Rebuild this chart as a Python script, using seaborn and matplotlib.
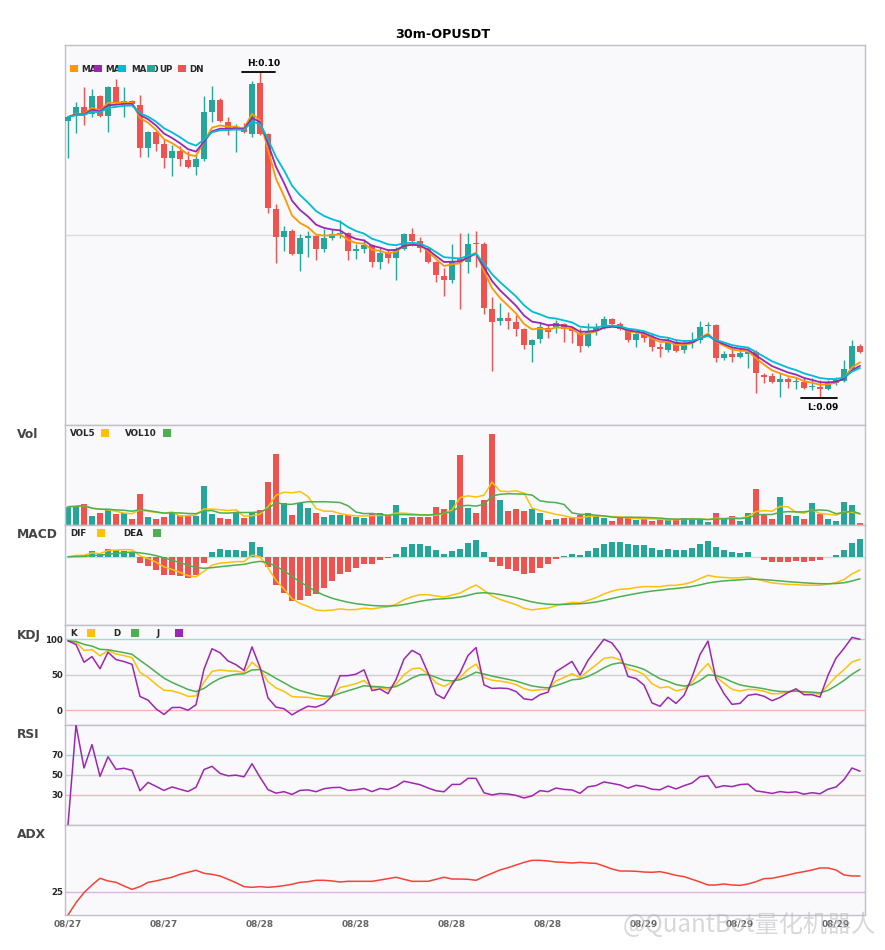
import numpy as np
import pandas as pd
import matplotlib
matplotlib.use("Agg")
import matplotlib.pyplot as plt
from matplotlib.patches import Patch
from matplotlib.legend import Legend
import seaborn as sns

sns.set_theme(style="white")
plt.rcParams["font.family"] = ["DejaVu Sans"]

title = "30m-OPUSDT"
watermark = "@QuantBot量化机器人"

# prices in units of 1e-5 USDT
open_e5 = [9842, 9863, 9884, 9863, 9917, 9857, 9944, 9896, 9902, 9890,
           9761, 9809, 9773, 9731, 9752, 9725, 9704, 9728, 9869, 9905,
           9839, 9818, 9824, 9803, 9956, 9803, 9578, 9494, 9512, 9443,
           9491, 9497, 9458, 9491, 9503, 9506, 9452, 9458, 9470, 9419,
           9446, 9431, 9458, 9503, 9482, 9461, 9419, 9377, 9365, 9428,
           9419, 9476, 9473, 9278, 9242, 9251, 9239, 9218, 9170, 9188,
           9221, 9224, 9233, 9218, 9206, 9167, 9212, 9221, 9248, 9233,
           9218, 9185, 9203, 9194, 9164, 9155, 9179, 9155, 9176, 9185,
           9227, 9230, 9131, 9143, 9134, 9143, 9149, 9080, 9077, 9059,
           9068, 9059, 9059, 9044, 9044, 9038, 9056, 9062, 9098, 9167]
high_e5 = [9857, 9899, 9944, 9938, 9920, 9947, 9968, 9944, 9905, 9920,
           9812, 9812, 9788, 9770, 9767, 9752, 9740, 9917, 9947, 9911,
           9854, 9833, 9836, 9962, 9989, 9806, 9593, 9527, 9518, 9503,
           9512, 9500, 9518, 9518, 9545, 9509, 9473, 9488, 9473, 9461,
           9458, 9464, 9506, 9521, 9494, 9464, 9422, 9401, 9473, 9506,
           9506, 9512, 9479, 9314, 9296, 9269, 9260, 9221, 9188, 9239,
           9230, 9245, 9236, 9224, 9221, 9236, 9236, 9257, 9251, 9239,
           9221, 9212, 9209, 9206, 9176, 9191, 9185, 9185, 9209, 9242,
           9239, 9233, 9152, 9164, 9164, 9155, 9155, 9086, 9086, 9086,
           9074, 9074, 9071, 9071, 9065, 9065, 9074, 9125, 9185, 9173]
low_e5 = [9731, 9806, 9830, 9854, 9854, 9809, 9893, 9854, 9887, 9734,
          9734, 9752, 9701, 9677, 9707, 9701, 9680, 9722, 9839, 9839,
          9800, 9749, 9806, 9794, 9800, 9566, 9416, 9452, 9440, 9392,
          9434, 9425, 9449, 9485, 9491, 9425, 9428, 9446, 9404, 9398,
          9416, 9365, 9455, 9467, 9449, 9416, 9359, 9317, 9356, 9278,
          9386, 9404, 9263, 9092, 9230, 9218, 9197, 9158, 9119, 9176,
          9191, 9206, 9179, 9176, 9149, 9164, 9200, 9218, 9230, 9215,
          9179, 9164, 9179, 9152, 9134, 9149, 9149, 9146, 9161, 9176,
          9209, 9119, 9125, 9119, 9131, 9101, 9026, 9056, 9056, 9014,
          9041, 9038, 9038, 9035, 9011, 9035, 9050, 9059, 9095, 9146]
close_e5 = [9854, 9884, 9863, 9917, 9857, 9944, 9896, 9902, 9893, 9761,
            9809, 9773, 9731, 9752, 9728, 9704, 9728, 9869, 9905, 9842,
            9818, 9824, 9809, 9953, 9803, 9581, 9494, 9512, 9443, 9491,
            9497, 9458, 9491, 9503, 9506, 9452, 9458, 9470, 9419, 9446,
            9431, 9458, 9503, 9482, 9461, 9419, 9380, 9365, 9422, 9422,
            9473, 9473, 9281, 9239, 9251, 9242, 9218, 9170, 9185, 9224,
            9209, 9236, 9218, 9212, 9167, 9212, 9221, 9248, 9233, 9218,
            9185, 9203, 9191, 9164, 9158, 9179, 9152, 9170, 9185, 9224,
            9230, 9131, 9143, 9134, 9146, 9149, 9086, 9074, 9059, 9068,
            9059, 9062, 9041, 9047, 9038, 9056, 9065, 9098, 9167, 9149]
volume = [183, 190, 210, 90, 117, 157, 110, 123, 60, 310,
          80, 60, 80, 123, 103, 103, 90, 390, 110, 70,
          60, 130, 70, 130, 150, 430, 710, 220, 100, 220,
          170, 120, 80, 100, 100, 100, 80, 70, 117, 117,
          90, 200, 70, 80, 80, 80, 180, 160, 250, 700,
          170, 120, 250, 910, 250, 140, 160, 140, 160, 120,
          50, 60, 70, 70, 100, 120, 90, 70, 40, 80,
          80, 50, 60, 40, 60, 50, 60, 70, 60, 60,
          30, 120, 60, 90, 40, 120, 360, 110, 60, 280,
          100, 90, 60, 220, 110, 60, 40, 230, 200, 20]
adx_values = [0.0, 13.4, 24.3, 32.6, 39.9, 37.0, 35.5, 31.5, 27.9, 30.8,
              35.5, 37.0, 39.1, 41.0, 44.2, 46.4, 48.6, 45.3, 44.2, 42.4,
              38.8, 35.1, 30.8, 30.1, 30.8, 30.1, 30.8, 31.9, 33.4, 35.5,
              36.2, 37.7, 37.7, 37.0, 35.9, 36.6, 36.6, 36.6, 36.6, 38.0,
              39.5, 41.0, 38.8, 36.6, 36.6, 36.6, 38.8, 41.0, 39.1, 39.1,
              38.8, 37.7, 41.7, 45.3, 48.9, 51.4, 54.3, 57.2, 59.4, 59.4,
              58.7, 57.6, 57.2, 56.5, 57.2, 56.5, 56.1, 53.2, 50.0, 47.8,
              47.8, 47.5, 46.7, 46.4, 47.1, 45.3, 43.1, 41.7, 38.8, 35.9,
              32.6, 32.6, 33.7, 32.6, 32.2, 33.7, 36.2, 39.5, 39.9, 41.7,
              43.5, 45.6, 47.1, 48.9, 51.1, 51.1, 48.9, 43.5, 42.4, 42.4]

tick_pos = [0, 12, 24, 36, 48, 60, 72, 84, 96]
tick_labels = ["08/27", "08/27", "08/28", "08/28", "08/28", "08/28", "08/29", "08/29", "08/29"]
ma_spans = [5, 7, 10]

UP_C, DN_C = "#26a69a", "#ef5350"
MA_COLORS = ["#ff9800", "#9c27b0", "#00bcd4"]
C_Y, C_G, C_P, C_ADX = "#ffc107", "#4caf50", "#9c27b0", "#f44336"

df = pd.DataFrame({
    "open": np.array(open_e5) / 1e5,
    "high": np.array(high_e5) / 1e5,
    "low": np.array(low_e5) / 1e5,
    "close": np.array(close_e5) / 1e5,
    "volume": np.array(volume, dtype=float),
    "adx": np.array(adx_values),
})
df["idx"] = np.arange(len(df))
n = len(df)
o, h, l, c, v = df["open"], df["high"], df["low"], df["close"], df["volume"]
is_up = c >= o
colors = np.where(is_up, UP_C, DN_C)

# indicators
mas = [c.ewm(span=s, adjust=False).mean() for s in ma_spans]
vol5 = v.rolling(5, min_periods=1).mean()
vol10 = v.rolling(10, min_periods=1).mean()
dif = c.ewm(span=12, adjust=False).mean() - c.ewm(span=26, adjust=False).mean()
dea = dif.ewm(span=9, adjust=False).mean()
hist = 2 * (dif - dea)
llv = l.rolling(9, min_periods=1).min()
hhv = h.rolling(9, min_periods=1).max()
rsv = (c - llv) / (hhv - llv) * 100
k_line = rsv.ewm(com=2, adjust=False).mean()
d_line = k_line.ewm(com=2, adjust=False).mean()
j_line = 3 * k_line - 2 * d_line
delta = c.diff()
gain = delta.clip(lower=0)
loss = (-delta).clip(lower=0)
ag = gain.ewm(alpha=1 / 14, adjust=True).mean()
al = loss.ewm(alpha=1 / 14, adjust=True).mean()
rsi = (100 * ag / (ag + al)).fillna(0)

W, H = 885, 950
fig = plt.figure(figsize=(W / 100, H / 100), dpi=100)
fig.patch.set_facecolor("white")


def make_ax(top, bot):
    ax = fig.add_axes([65 / W, 1 - bot / H, 800 / W, (bot - top) / H])
    ax.set_facecolor("#f9f9fb")
    for s in ax.spines.values():
        s.set_color("#c0c0c8")
        s.set_linewidth(1.0)
    return ax


def finish(ax):
    ax.set_xlim(-0.375, n - 0.375)
    ax.set_xticks(tick_pos)
    ax.set_xticklabels([])
    ax.tick_params(length=0, pad=1.5, labelsize=6.2)
    for t in ax.get_yticklabels():
        t.set_fontweight("bold")
    ax.set_xlabel("")
    ax.set_ylabel("")
    ax.grid(False)


def key(ax, panel_top, panel_h, label, color, x_px, y_px, pad, markerfirst):
    leg = Legend(ax, [Patch(facecolor=color, edgecolor="none")], [label],
                 loc="center left",
                 bbox_to_anchor=((x_px - 65) / 800, 1 - (y_px - panel_top) / panel_h),
                 frameon=False, borderpad=0, borderaxespad=0,
                 handlelength=0.9, handleheight=0.9, handletextpad=pad,
                 markerfirst=markerfirst, prop={"size": 6.3, "weight": "bold"})
    ax.add_artist(leg)


# ---- main candlestick panel
ax = make_ax(45, 425)
lo, hi = l.min(), h.max()
rng = hi - lo
ax.set_ylim(lo - 0.083 * rng, hi + 0.083 * rng)
y0, y1 = ax.get_ylim()
ax.axhline((y0 + y1) / 2, color="#dddddd", lw=1, zorder=0)
ax.vlines(df["idx"], l, h, colors=colors, lw=1.0, zorder=2)
body_lo = np.minimum(o, c)
body_h = np.maximum((c - o).abs(), rng * 0.004)
ax.bar(df["idx"], body_h, bottom=body_lo, width=0.75, color=colors, linewidth=0, zorder=3)
for ma, col in zip(mas, MA_COLORS):
    sns.lineplot(x=df["idx"], y=ma, ax=ax, color=col, lw=1.3, zorder=4)
ax.set_yticks([])
ih = int(h.idxmax())
il = int(l.idxmin())
ax.plot([ih - 2.25, ih + 1.9], [hi, hi], color="black", lw=1.3, zorder=5)
ax.annotate(f"H:{hi:.2f}", xy=(ih + 0.5, hi), xytext=(0, 3), textcoords="offset points",
            ha="center", va="bottom", fontsize=6.5, fontweight="bold", color="black")
ax.plot([il - 2.4, il + 2.1], [lo, lo], color="black", lw=1.3, zorder=5)
ax.annotate(f"L:{lo:.2f}", xy=(il + 0.4, lo), xytext=(0, -3.5), textcoords="offset points",
            ha="center", va="top", fontsize=6.5, fontweight="bold", color="black")
finish(ax)
ax.set_ylim(y0, y1)
ma_labels = [f"MA{s}" for s in ma_spans]
for lab, col, xs, pad in [(ma_labels[0], MA_COLORS[0], 70, 0.34),
                          (ma_labels[1], MA_COLORS[1], 94, 0.34),
                          (ma_labels[2], MA_COLORS[2], 118, 0.57),
                          ("UP", UP_C, 147, 0.46),
                          ("DN", DN_C, 178, 0.34)]:
    key(ax, 45, 380, lab, col, xs, 69, pad, True)

# ---- volume
ax = make_ax(425, 525)
ax.bar(df["idx"], v, width=0.75, color=colors, linewidth=0, zorder=2)
sns.lineplot(x=df["idx"], y=vol5, ax=ax, color=C_Y, lw=1.1, zorder=3)
sns.lineplot(x=df["idx"], y=vol10, ax=ax, color=C_G, lw=1.1, zorder=3)
ax.set_ylim(0, v.max() * 1.1)
ax.set_yticks([])
finish(ax)
key(ax, 425, 100, "VOL5", C_Y, 70, 433.5, 0.58, False)
key(ax, 425, 100, "VOL10", C_G, 125, 433.5, 0.69, False)

# ---- MACD
ax = make_ax(525, 625)
ax.axhline(0, color="#d8d8d8", lw=1, zorder=0)
ax.bar(df["idx"], hist, width=0.75, color=np.where(hist >= 0, UP_C, DN_C), linewidth=0, zorder=2)
sns.lineplot(x=df["idx"], y=dif, ax=ax, color=C_Y, lw=1.1, zorder=3)
sns.lineplot(x=df["idx"], y=dea, ax=ax, color=C_G, lw=1.1, zorder=3)
mn = min(dif.min(), dea.min(), hist.min())
mx = max(dif.max(), dea.max(), hist.max())
ax.set_ylim(mn - 0.2 * (mx - mn), mx + 0.2 * (mx - mn))
ax.set_yticks([])
finish(ax)
key(ax, 525, 100, "DIF", C_Y, 70, 533.5, 1.2, False)
key(ax, 525, 100, "DEA", C_G, 123, 533.5, 1.14, False)

# ---- KDJ
ax = make_ax(625, 725)
ax.axhline(100, color="#a6d8d4", lw=1, zorder=0)
ax.axhline(50, color="#d0d0d0", lw=1, zorder=0)
ax.axhline(0, color="#f5b5b5", lw=1, zorder=0)
sns.lineplot(x=df["idx"], y=k_line, ax=ax, color=C_Y, lw=1.1, zorder=3)
sns.lineplot(x=df["idx"], y=d_line, ax=ax, color=C_G, lw=1.1, zorder=3)
sns.lineplot(x=df["idx"], y=j_line, ax=ax, color=C_P, lw=1.1, zorder=3)
ax.set_ylim(-21, 120)
ax.set_yticks([0, 50, 100])
finish(ax)
key(ax, 625, 100, "K", C_Y, 70, 633.5, 1.17, False)
key(ax, 625, 100, "D", C_G, 113, 633.5, 1.22, False)
key(ax, 625, 100, "J", C_P, 157, 633.5, 1.68, False)

# ---- RSI
ax = make_ax(725, 825)
ax.axhline(70, color="#a6d8d4", lw=1, zorder=0)
ax.axhline(50, color="#d0d0d0", lw=1, zorder=0)
ax.axhline(30, color="#f5b5b5", lw=1, zorder=0)
sns.lineplot(x=df["idx"], y=rsi, ax=ax, color=C_P, lw=1.1, zorder=3)
ax.set_ylim(0, 100)
ax.set_yticks([30, 50, 70])
finish(ax)

# ---- ADX
ax = make_ax(825, 915)
ax.axhline(25, color="#dcb4e2", lw=1, zorder=0)
sns.lineplot(data=df, x="idx", y="adx", ax=ax, color=C_ADX, lw=1.1, zorder=3)
ax.set_ylim(0, 97.8)
ax.set_yticks([25])
finish(ax)
ax.set_xticklabels(tick_labels)
ax.tick_params(axis="x", pad=3, labelsize=6.5, labelcolor="#666666")
for t in ax.get_xticklabels():
    t.set_fontweight("bold")

# ---- panel names and title
for name, top in [("Vol", 425), ("MACD", 525), ("KDJ", 625), ("RSI", 725), ("ADX", 825)]:
    fig.text(17 / W, 1 - (top + 10) / H, name, ha="left", va="center",
             fontsize=8.8, fontweight="bold", color="#444444")
fig.text(0.5, 1 - 34 / H, title, ha="center", va="center", fontsize=9.2,
         fontweight="bold", color="black")
fig.text(876 / W, 1 - 925 / H, watermark, ha="right", va="center", fontsize=17.4,
         color="#b8b8b8", alpha=0.55, family=["Noto Sans CJK SC", "DejaVu Sans"])

fig.savefig("out.png", dpi=100)
